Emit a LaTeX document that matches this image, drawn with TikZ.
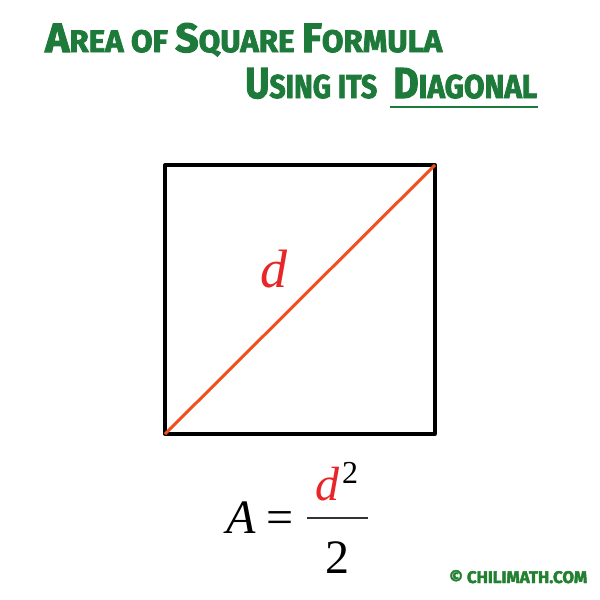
\documentclass[tikz,border=0pt]{standalone}
\usepackage{fontspec}
\setmainfont{Liberation Serif}
\newfontfamily\titlefont[BoldFeatures={FakeBold=2.5}]{Fira Sans}
\usepackage{graphicx}
\definecolor{titlegreen}{RGB}{30,122,58}
\definecolor{markgreen}{RGB}{34,128,48}
\definecolor{dred}{RGB}{232,38,40}
\definecolor{diagred}{RGB}{240,80,30}
\newcommand{\BigL}[1]{{\fontsize{42}{42}\selectfont #1}}
\newcommand{\SmL}[1]{{\fontsize{32}{32}\selectfont #1}}
\tikzset{
  title/.style={inner sep=0pt, anchor=base west, text=titlegreen, font=\titlefont\bfseries},
  mathtxt/.style={inner sep=0pt, font=\fontsize{48}{48}\selectfont},
  sqbox/.style={draw=black, line width=3.3pt, line join=round, inner sep=0pt, outer sep=0pt, minimum width=270pt, minimum height=269pt},
}
\begin{document}
\begin{tikzpicture}[x=1pt,y=-1pt]
\useasboundingbox[fill=white] (0,0) rectangle (600,600);
% title
\node[title] (t1) at (45,52) {\resizebox{397pt}{29pt}{\BigL{A}\SmL{REA OF }\BigL{S}\SmL{QUARE }\BigL{F}\SmL{ORMULA}}};
\node[title] (t2) at (245,98) {\resizebox{132pt}{30pt}{\BigL{U}\SmL{SING ITS}}};
\node[title] (t3) at (393,98) {\resizebox{144pt}{30pt}{\BigL{D}\SmL{IAGONAL}}};
\coordinate (ulA) at (390,107);
\coordinate (ulB) at (538,107);
\draw[titlegreen, line width=2.6pt] (ulA) -- (ulB);
% square
\node[sqbox] (sq) at (300,299.5) {};
\draw[diagred, line width=3pt] (sq.south west) -- (sq.north east);
\node[inner sep=0pt, anchor=base, text=dred, font=\fontsize{54}{54}\selectfont\itshape] (dl) at (273.5,287) {d};
% formula
\node[mathtxt, anchor=base west, font=\fontsize{48}{48}\selectfont\itshape] (A) at (226,533) {A};
\node[mathtxt, anchor=base] (eq) at (280,533) {=};
\node[mathtxt, anchor=base, text=dred, font=\fontsize{48}{48}\selectfont\itshape] (num) at (327.5,500) {d};
\node[inner sep=0pt, anchor=base west, font=\fontsize{32}{32}\selectfont] (sup) at (342,483) {2};
\coordinate (barL) at (307,518);
\coordinate (barR) at (368,518);
\draw[black!80, line width=1.3pt] (barL) -- (barR);
\node[mathtxt, anchor=base] (den) at (337.5,573) {2};
% watermark
\node[inner sep=0pt, anchor=base west, text=markgreen, font=\titlefont\bfseries] (wm) at (449,583) {\resizebox{138pt}{!}{\fontsize{14}{14}\selectfont\char"00A9{} CHILIMATH.COM}};
\end{tikzpicture}
\end{document}
